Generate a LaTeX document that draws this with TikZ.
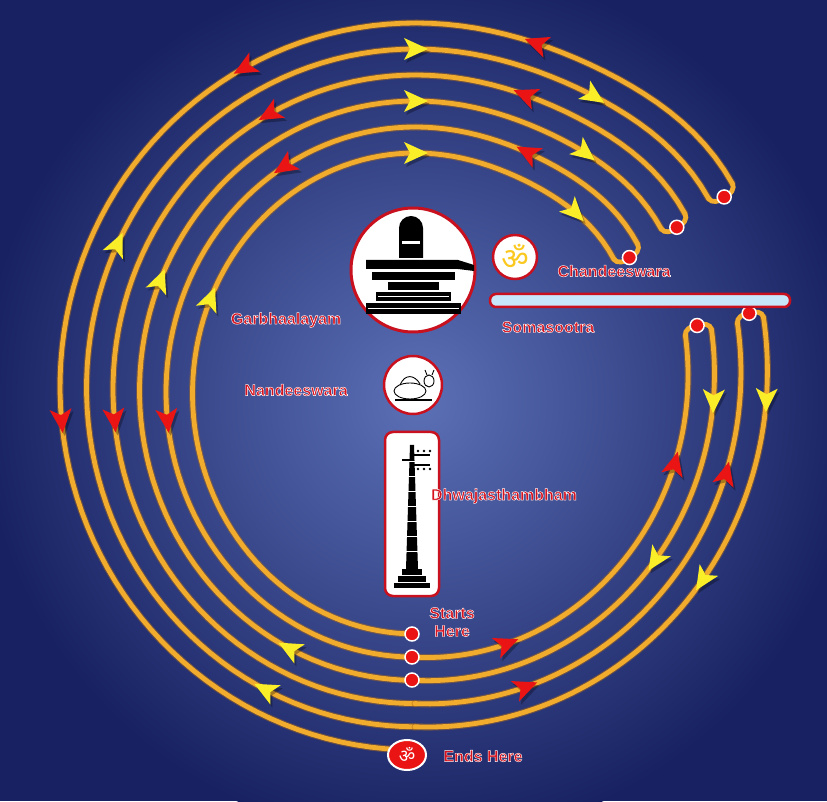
\documentclass[tikz,border=0pt]{standalone}
\usepackage{fontspec}
\setmainfont{Liberation Sans}
\newfontfamily\deva[Script=Devanagari]{Noto Sans}
\usetikzlibrary{calc,shapes.geometric}
\definecolor{trk}{RGB}{242,172,45}
\definecolor{trkd}{RGB}{170,105,25}
\definecolor{ared}{RGB}{235,20,20}
\definecolor{ayel}{RGB}{250,238,40}
\definecolor{lblred}{RGB}{200,16,30}
\definecolor{txtred}{RGB}{215,18,30}
\definecolor{bgout}{RGB}{24,34,98}
\definecolor{bgin}{RGB}{92,112,182}
\definecolor{sbar}{RGB}{200,230,250}
\definecolor{omy}{RGB}{250,200,30}
\newcommand\FF[1]{(1+0.055*exp(-min((((#1)-35)/22)*(((#1)-35)/22),30)))}
\newcommand\RX[1]{(355-26.5*(#1))}
\newcommand\RY[1]{(363.5-24.6*(#1))}
\newcommand\CY[1]{(414.5-1.4*(#1))}
\newcommand\rpt[3]{\pgfmathsetmacro\tmpx{415+\FF{#3}*\RX{#2}*cos(#3)}\pgfmathsetmacro\tmpy{\CY{#2}+\FF{#3}*\RY{#2}*sin(#3)}\coordinate (#1) at (\tmpx,\tmpy);}
\newcommand\rptn[3]{\pgfmathsetmacro\tmpx{415+\RX{#2}*cos(#3)}\pgfmathsetmacro\tmpy{\CY{#2}+\RY{#2}*sin(#3)}\coordinate (#1) at (\tmpx,\tmpy);}
\newcommand\arw[4]{%
 \pgfmathsetmacro\ax{415+\FF{#2}*\RX{#1}*cos(#2)}%
 \pgfmathsetmacro\ay{\CY{#1}+\FF{#2}*\RY{#1}*sin(#2)}%
 \pgfmathsetmacro\ad{atan2((#3)*\RY{#1}*cos(#2), -(#3)*\RX{#1}*sin(#2))}%
 \begin{scope}[shift={(\ax+2,\ay-3)},rotate=\ad]
 \fill[black,opacity=.3] (13,0)--(-11,-11)--(-5,0)--(-11,11)--cycle;
 \end{scope}
 \begin{scope}[shift={(\ax,\ay)},rotate=\ad]
 \fill[#4] (13,0)--(-11,-11)--(-5,0)--(-11,11)--cycle;
 \end{scope}}
\newcommand\halo[1]{{\color{txtred}\special{pdf:literal direct 2 Tr 0.45 w 1 1 1 RG}#1\special{pdf:literal direct 0 Tr}}}
\begin{document}
\begin{tikzpicture}[x=1pt,y=1pt,
  trackd/.style={line width=7pt,draw=trkd,line cap=round},
  track/.style={line width=4.8pt,draw=trk,line cap=round},
  rdot/.style={circle,fill=ared,draw=white,line width=1.5pt,minimum size=14pt,inner sep=0pt},
  lbl/.style={font=\bfseries\fontsize{16}{18}\selectfont,inner sep=0pt,align=center}]
\useasboundingbox (0,0) rectangle (827,801);
\clip (0,0) rectangle (827,801);
\fill[bgout] (0,0) rectangle (827,801);
\shade[inner color=bgin,outer color=bgout] (420,400) circle (440);
% rings left part
\foreach \k in {0,...,5}{
  \draw[trackd,opacity=.5] plot[domain=32:270,samples=100] ({415+\FF{\x}*\RX{\k}*cos(\x)},{\CY{\k}+\FF{\x}*\RY{\k}*sin(\x)});
  \draw[track] plot[domain=32:270,samples=100] ({415+\FF{\x}*\RX{\k}*cos(\x)},{\CY{\k}+\FF{\x}*\RY{\k}*sin(\x)});
}
% bottom-right spiral lines
\foreach \j in {1,...,4}{
  \draw[trackd,opacity=.5] plot[domain=270:371,samples=70] ({415+\RX{\j-(\x-270)/101}*cos(\x)},{\CY{\j-(\x-270)/101}+\RY{\j-(\x-270)/101}*sin(\x)});
  \draw[track] plot[domain=270:371,samples=70] ({415+\RX{\j-(\x-270)/101}*cos(\x)},{\CY{\j-(\x-270)/101}+\RY{\j-(\x-270)/101}*sin(\x)});
}
% top U-turns
\foreach \k [evaluate=\k as \kk using int(\k+1)] in {0,2,4}{
  \rpt{ua\k}{\k}{32}\rpt{ub\k}{\kk}{32}
  \draw[track] (ua\k) to[out=-58,in=-58] (ub\k);
  \node[rdot] (td\k) at ($($(ua\k)!0.5!(ub\k)$)+(-58:7)$) {};
}
% right U-turns
\foreach \k [evaluate=\k as \kk using int(\k+1)] in {0,2}{
  \rptn{va\k}{\k}{11}\rptn{vb\k}{\kk}{11}
  \draw[track] (vb\k) to[out=101,in=101] (va\k);
  \node[rdot] (rd\k) at ($($(va\k)!0.5!(vb\k)$)+(101:7)$) {};
}
% start dots
\node[rdot] (s1) at (412,167) {};
\node[rdot] (s2) at (412,144) {};
\node[rdot] (s3) at (412,121) {};
% arrows top
\arw{0}{70}{1}{ared}\arw{2}{68.6}{1}{ared}\arw{4}{63.3}{1}{ared}
\arw{0}{118.6}{1}{ared}\arw{2}{118.7}{1}{ared}\arw{4}{121.5}{1}{ared}
\arw{1}{90}{-1}{ayel}\arw{3}{90}{-1}{ayel}\arw{5}{90}{-1}{ayel}
\arw{1}{57.8}{-1}{ayel}\arw{3}{53.2}{-1}{ayel}\arw{5}{46.5}{-1}{ayel}
% left
\arw{1}{155}{-1}{ayel}\arw{3}{157.8}{-1}{ayel}\arw{5}{157}{-1}{ayel}
\arw{0}{185.3}{1}{ared}\arw{2}{185.5}{1}{ared}\arw{4}{186}{1}{ared}
% bottom left
\arw{3}{243}{-1}{ayel}\arw{1}{243}{-1}{ayel}
% bottom right
\arw{3.792}{291}{1}{ared}\arw{1.792}{291}{1}{ared}
\arw{3.257}{345}{1}{ared}\arw{1.257}{345}{1}{ared}
\arw{2.129}{358}{-1}{ayel}\arw{0.129}{358}{-1}{ayel}
\arw{2.446}{326}{-1}{ayel}\arw{0.436}{327}{-1}{ayel}
% Garbhaalayam
\node[circle,draw=lblred,line width=3pt,fill=white,minimum size=124pt] (garbha) at (413,531) {};
\fill[black] (399,543) -- (399,573) arc[start angle=180,end angle=0,radius=12] -- (423,543) -- cycle;
\fill[white] (402,560) rectangle (420,557);
\fill[black] (366,541) -- (458,541) -- (474,536) -- (474,530) -- (458,532) -- (366,532) -- cycle;
\fill[black] (372,529) rectangle (455,521);
\fill[black] (388,519) rectangle (439,511);
\fill[black] (376,509) rectangle (451,500);
\fill[black] (366,498) rectangle (461,487);
\draw[white,line width=.8pt] (368,493) -- (459,493) (378,505)--(449,505);
% Om circle
\node[circle,draw=lblred,line width=2.5pt,fill=white,minimum size=44pt,inner sep=0pt] (omc) at (515,544) {\deva\fontsize{30}{30}\selectfont\color{omy}ॐ};
% Somasootra bar
\draw[lblred,line width=2.5pt,fill=sbar,rounded corners=6pt] (490,494) rectangle (790,507);
% Nandi
\node[circle,draw=lblred,line width=2.5pt,fill=white,minimum size=58pt] (nandi) at (413,416) {};
\draw[black,line width=.9pt,fill=white] (410,410) ellipse (16 and 8);
\draw[black,line width=.9pt] (400,416) .. controls (405,428) and (415,426) .. (420,417);
\draw[black,line width=.9pt,fill=white] (429,420) ellipse (5 and 6);
\draw[black,line width=.9pt] (427,426) -- (425,431) (432,426) -- (434,431);
\fill[black] (395,402) rectangle (432,400);
% Dhwajasthambham
\node[draw=lblred,line width=2.5pt,fill=white,rounded corners=8pt,minimum width=54pt,minimum height=164pt] (dhwaja) at (412,287) {};
\fill[black] (410,356) -- (414,356) -- (418,232) -- (406,232) -- cycle;
\foreach \yy in {250,265,280,295,310,325,340}{\draw[white,line width=.7pt] (405,\yy) -- (419,\yy);}
\draw[black,line width=1.2pt] (413,346) -- (430,346) (413,336) -- (430,336) (402,341) -- (413,341);
\foreach \xx in {418,424,430}{\fill[black] (\xx,350) circle (1.3); \fill[black] (\xx,332) circle (1.3);}
\fill[black] (402,232) rectangle (422,226);
\fill[black] (398,225) rectangle (426,219);
\fill[black] (394,218) rectangle (430,213);
% labels
\node[lbl] (lgarbha) at (286,481) {\halo{Garbhaalayam}};
\node[lbl] (lchand) at (614,530) {\halo{Chandeeswara}};
\node[lbl] (lsoma) at (548,474) {\halo{Somasootra}};
\node[lbl] (lnandi) at (296,411) {\halo{Nandeeswara}};
\node[lbl] (ldhwaja) at (504,305) {\halo{Dhwajasthambham}};
\node[lbl] (lstart) at (452,179) {\halo{Starts}\\\halo{Here}};
% Ends
\node[ellipse,fill=ared,draw=white,line width=2pt,minimum width=38pt,minimum height=30pt,inner sep=0pt] (ends) at (407,46) {\deva\fontsize{18}{18}\selectfont\color{white}ॐ};
\node[lbl] (lends) at (483,45) {\halo{Ends Here}};
\end{tikzpicture}
\end{document}
